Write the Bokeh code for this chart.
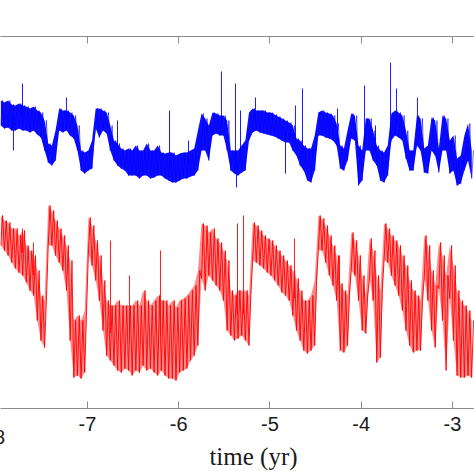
import numpy as np
from bokeh.plotting import figure
from bokeh.models import Range1d, LinearAxis, FixedTicker, Label
from bokeh.embed import file_html
from bokeh.resources import INLINE

# Sampling grid of the two records (years)
t_start = -7.95
dt = 0.04

# Upper record: envelope of the noisy band (upper / lower edge per sample)
blue_hi = [30.8, 30.6, 30.8, 30.4, 30.3, 30.5, 30.3, 30.2, 30.0, 30.2,
           29.8, 29.6, 28.8, 26.5, 26.3, 27.8, 30.0, 29.8, 29.8, 29.6,
           29.3, 28.3, 25.8, 25.6, 25.8, 26.8, 30.0, 30.0, 29.8, 29.6,
           28.3, 26.8, 26.5, 26.0, 25.8, 26.0, 25.8, 26.3, 25.8, 25.8,
           26.5, 25.8, 25.8, 26.3, 25.6, 25.5, 25.6, 25.6, 25.3, 25.5,
           25.6, 25.6, 25.8, 26.0, 27.8, 29.5, 29.0, 28.3, 29.6, 29.5,
           29.3, 29.3, 28.8, 25.8, 25.8, 25.8, 26.3, 26.8, 29.6, 30.0,
           29.8, 29.8, 29.8, 29.6, 29.6, 29.4, 29.2, 29.0, 28.8, 28.6,
           28.3, 27.0, 26.8, 26.3, 26.0, 26.0, 27.3, 29.6, 29.8, 29.6,
           29.5, 29.3, 28.5, 26.3, 26.0, 27.8, 29.5, 29.3, 26.3, 25.8,
           29.0, 29.0, 27.8, 26.3, 25.8, 25.6, 26.3, 29.5, 29.8, 29.6,
           29.3, 27.8, 25.8, 25.8, 29.3, 29.0, 26.0, 26.3, 29.1, 28.8,
           26.0, 29.3, 29.0, 26.8, 27.3, 25.0, 25.3, 27.3, 28.5, 25.8]
blue_lo = [28.3, 28.0, 28.1, 27.8, 27.8, 28.0, 27.8, 27.8, 27.6, 27.8,
           27.4, 27.1, 25.8, 24.6, 24.3, 24.8, 27.8, 27.6, 27.8, 27.3,
           27.0, 25.8, 23.8, 23.5, 23.8, 24.0, 28.0, 27.1, 27.8, 27.5,
           25.8, 24.8, 24.3, 24.0, 23.8, 23.3, 23.3, 23.3, 23.0, 23.3,
           23.3, 23.0, 23.1, 23.3, 23.3, 23.0, 22.8, 22.6, 22.6, 22.8,
           23.0, 23.0, 23.2, 23.3, 23.8, 25.8, 25.8, 24.8, 27.3, 27.5,
           27.3, 27.3, 25.8, 23.8, 23.5, 23.3, 23.6, 23.8, 26.8, 27.6,
           27.8, 27.6, 27.5, 27.4, 27.3, 27.2, 27.0, 26.8, 26.6, 26.6,
           25.8, 25.3, 24.3, 23.8, 22.8, 22.6, 23.8, 27.3, 27.3, 27.1,
           27.0, 26.8, 26.3, 24.0, 23.8, 24.8, 27.0, 26.8, 22.3, 22.8,
           25.8, 25.8, 24.8, 24.3, 22.8, 22.6, 23.3, 26.8, 27.3, 27.1,
           26.8, 25.0, 23.8, 23.8, 26.3, 25.8, 23.6, 23.5, 25.8, 25.3,
           23.6, 25.8, 25.8, 23.5, 23.8, 22.3, 22.5, 23.8, 24.8, 23.0]
# Isolated excursions of the upper record: time (yr) and extreme value
blue_spike_t = [-7.811, -7.712, -7.230, -6.671, -6.101, -5.893, -5.532, -5.378,
                -5.367, -5.323, -5.159, -4.830, -4.721, -4.644, -4.260, -3.964,
                -3.844, -3.679, -3.614, -3.384]
blue_spike_v = [25.8, 32.5, 31.1, 28.8, 29.8, 26.8, 33.7, 32.5,
                22.1, 29.8, 31.1, 23.5, 30.3, 32.0, 30.0, 32.3,
                28.3, 34.6, 32.0, 31.1]

# Lower record: envelope of the noisy band (upper / lower edge per sample)
red_hi = [19.3, 18.8, 18.6, 18.0, 18.0, 17.3, 17.8, 16.3, 15.8, 15.3,
          13.8, 11.3, 10.8, 20.3, 19.8, 18.8, 18.0, 17.3, 16.3, 14.8,
          8.8, 9.3, 8.8, 9.8, 19.1, 18.3, 16.8, 15.3, 12.8, 10.8,
          10.3, 10.3, 10.8, 10.3, 10.3, 10.3, 10.3, 10.8, 10.3, 11.8,
          10.8, 10.3, 10.8, 11.3, 10.8, 10.8, 10.3, 10.8, 10.1, 10.8,
          11.0, 11.3, 11.8, 12.3, 13.8, 18.5, 18.3, 17.6, 18.0, 17.0,
          16.6, 15.8, 14.8, 11.8, 11.3, 11.8, 11.8, 11.8, 11.3, 18.6,
          18.3, 17.8, 17.3, 17.0, 16.8, 16.3, 15.8, 15.3, 14.8, 14.3,
          13.8, 13.0, 11.8, 10.8, 10.8, 11.3, 12.8, 19.3, 19.0, 18.3,
          17.3, 16.3, 15.3, 12.5, 11.8, 11.3, 17.6, 16.8, 15.3, 13.3,
          11.3, 17.0, 15.8, 13.3, 11.8, 18.5, 18.0, 17.3, 16.8, 16.3,
          15.3, 14.3, 12.8, 11.8, 11.3, 10.8, 17.3, 16.3, 13.8, 12.3,
          16.6, 15.3, 13.3, 16.3, 14.3, 11.8, 10.8, 10.3, 9.8, 8.8]
red_lo = [16.3, 15.8, 15.3, 14.6, 14.0, 13.6, 13.3, 12.6, 11.8, 11.3,
          8.8, 6.8, 6.1, 16.3, 16.3, 15.3, 14.6, 13.8, 11.8, 6.8,
          3.1, 3.3, 3.0, 3.6, 15.5, 14.3, 12.8, 10.8, 7.8, 5.3,
          4.8, 4.3, 3.8, 3.6, 4.0, 3.8, 3.3, 3.8, 3.6, 4.3,
          3.8, 4.0, 3.6, 3.3, 3.8, 3.3, 3.0, 3.0, 2.8, 3.6,
          3.8, 4.0, 4.8, 5.3, 6.3, 13.0, 11.8, 13.3, 12.8, 12.3,
          11.8, 10.8, 7.8, 7.3, 6.8, 7.0, 7.3, 6.8, 6.3, 14.8,
          14.6, 14.3, 14.0, 13.6, 13.3, 12.8, 12.3, 11.6, 11.3, 10.8,
          9.3, 7.8, 6.8, 5.8, 5.5, 5.8, 6.3, 15.8, 15.8, 14.6,
          13.3, 12.3, 10.8, 5.8, 5.6, 6.3, 13.8, 13.3, 10.8, 7.8,
          7.5, 13.0, 10.8, 4.6, 5.1, 14.8, 14.6, 13.3, 12.3, 11.3,
          9.8, 7.8, 6.3, 5.6, 5.8, 5.8, 13.0, 10.8, 7.8, 6.1,
          12.0, 8.8, 3.8, 11.0, 6.8, 3.3, 3.1, 3.1, 3.3, 3.1]
# Isolated excursions of the lower record
red_spike_t = [-7.712, -7.592, -6.748, -6.540, -6.200, -5.356, -5.290, -4.732, -4.238]
red_spike_v = [18.0, 16.6, 16.8, 13.3, 15.8, 18.5, 19.3, 17.0, 15.3]

x_ticks = [-8, -7, -6, -5, -4, -3]
x_tick_labels = ["-8", "-7", "-6", "-5", "-4", "-3"]

t = t_start + dt * np.arange(len(blue_hi))


def zigzag(hi, lo):
    """Alternate between the lower and upper edge to give the band its texture."""
    xs = np.empty(2 * len(hi))
    ys = np.empty(2 * len(hi))
    xs[0::2] = t
    xs[1::2] = t + dt / 2
    ys[0::2] = lo
    ys[1::2] = hi
    return xs, ys


def spike_bases(spike_t, hi, lo):
    mid = (np.asarray(hi) + np.asarray(lo)) / 2
    return np.interp(spike_t, t, mid)


p = figure(width=474, height=474, output_backend="svg", toolbar_location=None,
           x_range=Range1d(-7.953, -2.759), y_range=Range1d(0, 37.2),
           y_axis_type=None, min_border_left=0, min_border_right=0,
           min_border_top=36, min_border_bottom=66)
p.background_fill_color = "white"
p.border_fill_color = "white"
p.outline_line_color = None
p.xgrid.visible = False
p.ygrid.visible = False

BLUE = "#0000ff"
RED = "#ff0000"

# upper record
p.varea(x=t, y1=blue_lo, y2=blue_hi, fill_color=BLUE, fill_alpha=0.95)
bx, by = zigzag(blue_hi, blue_lo)
p.line(bx, by, line_color=BLUE, line_width=0.6)
p.segment(x0=blue_spike_t, y0=spike_bases(blue_spike_t, blue_hi, blue_lo),
          x1=blue_spike_t, y1=blue_spike_v, line_color=BLUE, line_width=0.9)

# lower record
p.varea(x=t, y1=red_lo, y2=red_hi, fill_color=RED, fill_alpha=0.45)
rx, ry = zigzag(red_hi, red_lo)
p.line(rx, ry, line_color=RED, line_width=0.9)
p.segment(x0=red_spike_t, y0=spike_bases(red_spike_t, red_hi, red_lo),
          x1=red_spike_t, y1=red_spike_v, line_color=RED, line_width=0.9)

axis_color = "#8c8c8c"
xa = p.xaxis[0]
xa.ticker = FixedTicker(ticks=x_ticks)
xa.major_label_overrides = dict(zip(x_ticks, x_tick_labels))
xa.major_tick_in = 7
xa.major_tick_out = 0
xa.minor_tick_in = 0
xa.minor_tick_out = 0
xa.axis_line_color = axis_color
xa.major_tick_line_color = axis_color
xa.major_label_text_font = "Liberation Sans"
xa.major_label_text_font_size = "20px"
xa.major_label_text_color = "#1a1a1a"
xa.major_label_standoff = 8

# top edge of the box, ticks pointing inward, no labels
top = LinearAxis(ticker=FixedTicker(ticks=x_ticks), major_tick_in=7, major_tick_out=0,
                 minor_tick_in=0, minor_tick_out=0, axis_line_color=axis_color,
                 major_tick_line_color=axis_color, major_label_text_color=None,
                 major_label_standoff=0)
p.add_layout(top, "above")

# leftmost tick label, lying at the edge of the visible span
p.add_layout(Label(x=-8, y=11, x_units="data", y_units="screen", text="-8",
                   text_align="center", text_baseline="alphabetic",
                   text_font="Liberation Sans", text_font_size="20px",
                   text_color="#1a1a1a"), "below")

p.add_layout(Label(x=253, y=18, x_units="screen", y_units="screen", text="time (yr)",
                   text_align="center", text_baseline="alphabetic",
                   text_font="Liberation Serif", text_font_size="25px",
                   text_color="#1a1a1a"), "below")

open("out.html", "w").write(file_html(p, INLINE))
